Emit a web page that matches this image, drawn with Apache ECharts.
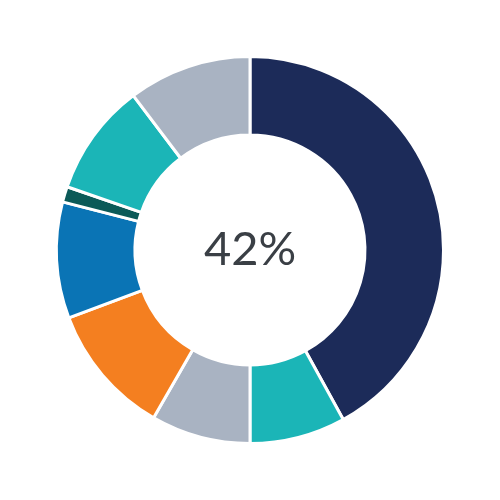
<!DOCTYPE html>
<html><head><meta charset="utf-8">
<script src="https://cdn.jsdelivr.net/npm/echarts@6/dist/echarts.min.js"></script>
<style>html,body{margin:0;padding:0;background:#fff}#c{width:500px;height:500px}</style>
</head><body><div id="c"></div>
<script>
const categories = ['A','B','C','D','E','F','G','H'];
const values = [42, 8, 8.3, 11, 9.7, 1.3, 9.4, 10.3];
const colors = ['#1c2b59','#1bb5b7','#a9b3c2','#f47f20','#0a74b5','#0b5a58','#1bb5b7','#a9b3c2'];
const centerLabel = '42%';
const chart = echarts.init(document.getElementById('c'));
chart.setOption({
  animation:false,
  graphic:[{type:'text',left:'center',top:'middle',style:{text:centerLabel,font:'400 47px Lato, "Open Sans", sans-serif',fill:'#3a3f45',textAlign:'center'}}],
  series:[{
    type:'pie',
    radius:['46%','77.4%'],
    center:['50%','50%'],
    startAngle:90,
    clockwise:true,
    label:{show:false},
    labelLine:{show:false},
    itemStyle:{borderColor:'#fff',borderWidth:3},
    data: categories.map((c,i)=>({name:c,value:values[i],itemStyle:{color:colors[i]}}))
  }]
});
</script></body></html>
